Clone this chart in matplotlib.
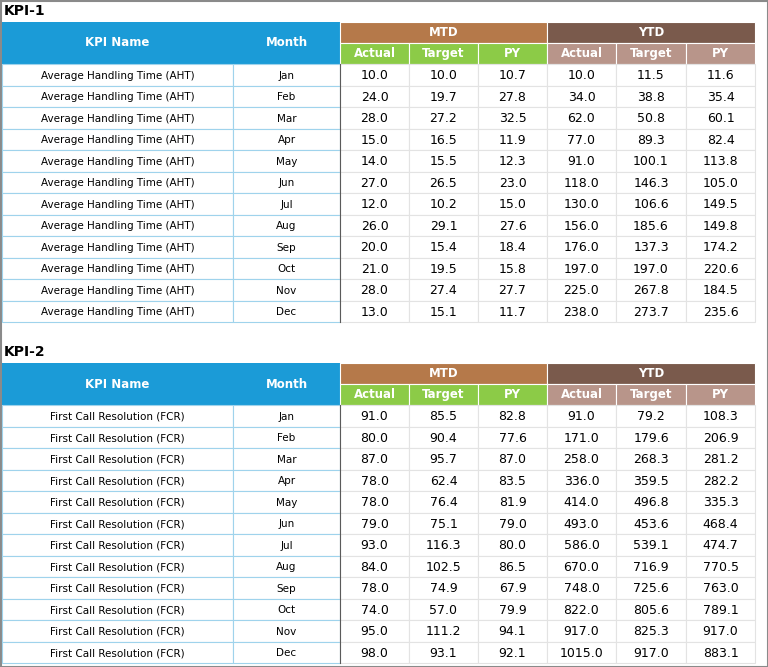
import matplotlib.pyplot as plt
from matplotlib.patches import Rectangle

months = ["Jan", "Feb", "Mar", "Apr", "May", "Jun", "Jul", "Aug", "Sep", "Oct", "Nov", "Dec"]

kpi1_name = "Average Handling Time (AHT)"
kpi1_mtd_actual = [10.0, 24.0, 28.0, 15.0, 14.0, 27.0, 12.0, 26.0, 20.0, 21.0, 28.0, 13.0]
kpi1_mtd_target = [10.0, 19.7, 27.2, 16.5, 15.5, 26.5, 10.2, 29.1, 15.4, 19.5, 27.4, 15.1]
kpi1_mtd_py = [10.7, 27.8, 32.5, 11.9, 12.3, 23.0, 15.0, 27.6, 18.4, 15.8, 27.7, 11.7]
kpi1_ytd_actual = [10.0, 34.0, 62.0, 77.0, 91.0, 118.0, 130.0, 156.0, 176.0, 197.0, 225.0, 238.0]
kpi1_ytd_target = [11.5, 38.8, 50.8, 89.3, 100.1, 146.3, 106.6, 185.6, 137.3, 197.0, 267.8, 273.7]
kpi1_ytd_py = [11.6, 35.4, 60.1, 82.4, 113.8, 105.0, 149.5, 149.8, 174.2, 220.6, 184.5, 235.6]

kpi2_name = "First Call Resolution (FCR)"
kpi2_mtd_actual = [91.0, 80.0, 87.0, 78.0, 78.0, 79.0, 93.0, 84.0, 78.0, 74.0, 95.0, 98.0]
kpi2_mtd_target = [85.5, 90.4, 95.7, 62.4, 76.4, 75.1, 116.3, 102.5, 74.9, 57.0, 111.2, 93.1]
kpi2_mtd_py = [82.8, 77.6, 87.0, 83.5, 81.9, 79.0, 80.0, 86.5, 67.9, 79.9, 94.1, 92.1]
kpi2_ytd_actual = [91.0, 171.0, 258.0, 336.0, 414.0, 493.0, 586.0, 670.0, 748.0, 822.0, 917.0, 1015.0]
kpi2_ytd_target = [79.2, 179.6, 268.3, 359.5, 496.8, 453.6, 539.1, 716.9, 725.6, 805.6, 825.3, 917.0]
kpi2_ytd_py = [108.3, 206.9, 281.2, 282.2, 335.3, 468.4, 474.7, 770.5, 763.0, 789.1, 917.0, 883.1]

BLUE = "#1B9BD7"
MTD_C = "#B5794A"
GREEN = "#8CCB47"
YTD_C = "#7A5A4C"
YTD_SUB = "#B8958A"

fig = plt.figure(figsize=(7.68, 6.67), dpi=100)
ax = fig.add_axes([0, 0, 1, 1])
ax.set_xlim(0, 768)
ax.set_ylim(667, 0)
ax.axis("off")

# outer frame
ax.add_patch(Rectangle((0.5, 0.5), 767, 666, fill=False, ec="#8A8A8A", lw=1.5))

xs = [2, 233, 340, 409, 478, 547, 616, 686, 755]


def rect(x0, y0, x1, y1, fc, ec="none", lw=0.8):
    ax.add_patch(Rectangle((x0, y0), x1 - x0, y1 - y0, fc=fc, ec=ec, lw=lw))


def draw_table(top, title, name, cols):
    ax.text(4, top - 11, title, fontsize=10, fontweight="bold", va="center", ha="left")
    h1, h2 = top + 21, top + 42
    rect(xs[0], top, xs[2], h2, BLUE)
    ax.text((xs[0] + xs[1]) / 2, (top + h2) / 2, "KPI Name", color="white", fontsize=8.5,
            fontweight="bold", ha="center", va="center")
    ax.text((xs[1] + xs[2]) / 2, (top + h2) / 2, "Month", color="white", fontsize=8.5,
            fontweight="bold", ha="center", va="center")
    rect(xs[2], top, xs[5], h1, MTD_C, "white")
    ax.text((xs[2] + xs[5]) / 2, (top + h1) / 2, "MTD", color="white", fontsize=8.5,
            fontweight="bold", ha="center", va="center")
    rect(xs[5], top, xs[8], h1, YTD_C, "white")
    ax.text((xs[5] + xs[8]) / 2, (top + h1) / 2, "YTD", color="white", fontsize=8.5,
            fontweight="bold", ha="center", va="center")
    subs = ["Actual", "Target", "PY"] * 2
    for i, s in enumerate(subs):
        fc = GREEN if i < 3 else YTD_SUB
        rect(xs[2 + i], h1, xs[3 + i], h2, fc, "white")
        ax.text((xs[2 + i] + xs[3 + i]) / 2, (h1 + h2) / 2, s, color="white", fontsize=8.5,
                fontweight="bold", ha="center", va="center")
    rh = 21.5
    for r, m in enumerate(months):
        y0 = h2 + r * rh
        y1 = y0 + rh
        rect(xs[0], y0, xs[1], y1, "white", "#9FD3EC")
        rect(xs[1], y0, xs[2], y1, "white", "#9FD3EC")
        ax.text((xs[0] + xs[1]) / 2, (y0 + y1) / 2 + 1, name, fontsize=7.5, ha="center", va="center")
        ax.text((xs[1] + xs[2]) / 2, (y0 + y1) / 2 + 1, m, fontsize=7.5, ha="center", va="center")
        for c, vals in enumerate(cols):
            rect(xs[2 + c], y0, xs[3 + c], y1, "white", "#E3E3E3")
            ax.text((xs[2 + c] + xs[3 + c]) / 2, (y0 + y1) / 2 + 1, f"{vals[r]:.1f}",
                    fontsize=9, ha="center", va="center")
    ax.plot([xs[2], xs[2]], [h2, h2 + 12 * rh], color="#5A5A5A", lw=0.8)


draw_table(22, "KPI-1", kpi1_name,
           [kpi1_mtd_actual, kpi1_mtd_target, kpi1_mtd_py, kpi1_ytd_actual, kpi1_ytd_target, kpi1_ytd_py])
draw_table(363, "KPI-2", kpi2_name,
           [kpi2_mtd_actual, kpi2_mtd_target, kpi2_mtd_py, kpi2_ytd_actual, kpi2_ytd_target, kpi2_ytd_py])

fig.savefig("out.png", dpi=100)
